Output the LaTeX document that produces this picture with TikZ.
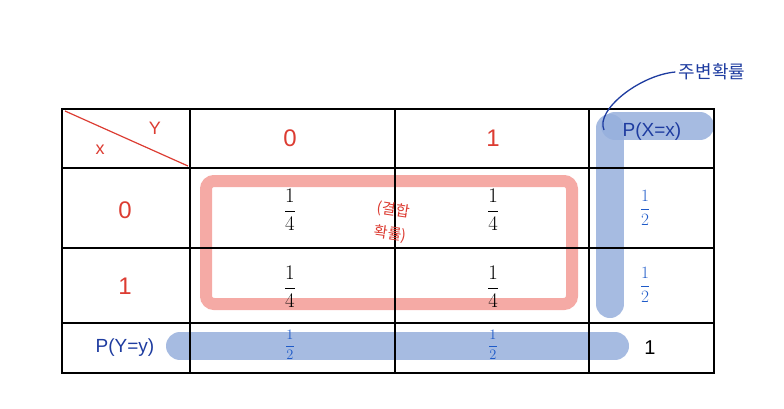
\documentclass[tikz,border=0pt]{standalone}
\usepackage{fontspec}
\setmainfont{Liberation Sans}
\newfontfamily\kor{Noto Sans CJK KR}
\definecolor{hred}{RGB}{220,60,50}
\definecolor{hblue}{RGB}{30,90,200}
\definecolor{dblue}{RGB}{30,60,160}
\definecolor{hlblue}{RGB}{150,175,220}
\definecolor{hlred}{RGB}{245,170,165}
\begin{document}
\begin{tikzpicture}[x=1pt,y=-1pt,
  rl/.style={text=hred,font=\fontsize{24}{28}\selectfont},
  bl/.style={text=hblue,font=\fontsize{18}{22}\selectfont},
  gr/.style={line width=1.2pt},
  hl/.style={line width=28pt,line cap=round,draw=hlblue,opacity=0.85}]
\useasboundingbox (0,0) rectangle (784,408);
% highlights
\draw[line width=12pt,draw=hlred,rounded corners=8pt] (206,181) rectangle (572,304);
\draw[hl] (610,128) -- (610,304);
\draw[hl] (615,126) -- (700,126);
\draw[hl] (180,346) -- (615,346);
% grid
\draw[gr] (62,109) rectangle (714,373);
\foreach \x in {190,395,589} \draw[gr] (\x,109) -- (\x,373);
\foreach \y in {168,248,323} \draw[gr] (62,\y) -- (714,\y);
\draw[gr,hred] (65,111) -- (188,166);
\node[rl,font=\fontsize{18}{20}\selectfont] (hy) at (155,128) {Y};
\node[rl,font=\fontsize{18}{20}\selectfont] (hx) at (100,150) {x};
\node[rl] (c0) at (290,138) {0};
\node[rl] (c1) at (493,138) {1};
\node[rl] (r0) at (125,210) {0};
\node[rl] (r1) at (125,286) {1};
\node[text=dblue,font=\fontsize{19}{22}\selectfont] (px) at (652,132) {P(X=x)};
\node[text=dblue,font=\fontsize{19}{22}\selectfont] (py) at (125,348) {P(Y=y)};
\foreach \x/\y/\n in {290/210/a,493/210/b,290/287/c,493/287/d}
  \node[font=\fontsize{20}{24}\selectfont] (\n) at (\x,\y) {$\displaystyle\frac{1}{4}$};
\node[bl] (m1) at (645,208) {$\displaystyle\frac{1}{2}$};
\node[bl] (m2) at (645,285) {$\displaystyle\frac{1}{2}$};
\node[bl,font=\fontsize{15}{16}\selectfont] (m3) at (290,345) {$\displaystyle\frac{1}{2}$};
\node[bl,font=\fontsize{15}{16}\selectfont] (m4) at (493,345) {$\displaystyle\frac{1}{2}$};
\node[font=\fontsize{20}{22}\selectfont] (one) at (650,348) {1};
\node[text=hred,font=\kor\fontsize{15}{24}\selectfont,align=center,rotate=-8] (jp) at (392,222) {(결합\\ 확률)};
\node[text=dblue,font=\kor\fontsize{18}{20}\selectfont] (mp) at (712,72) {주변확률};
\draw[dblue,line width=1.3pt] (mp.west) .. controls (640,75) and (595,110) .. (604,130);
\end{tikzpicture}
\end{document}
